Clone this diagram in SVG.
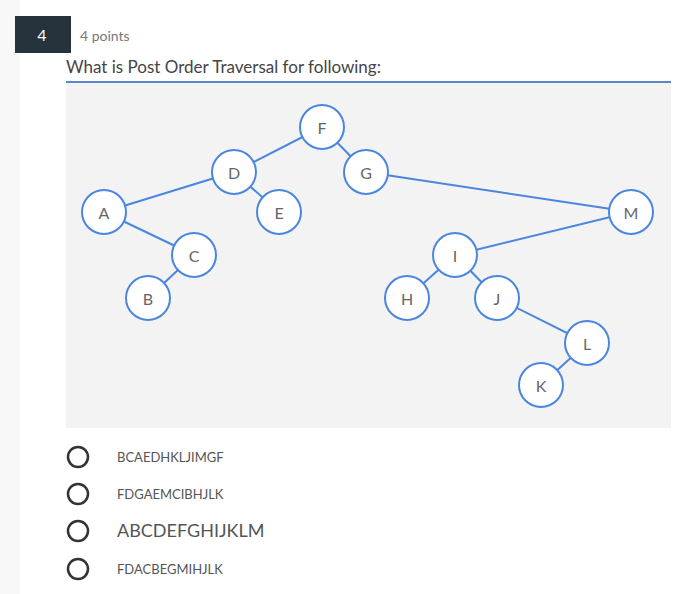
<svg xmlns="http://www.w3.org/2000/svg" width="700" height="594" viewBox="0 0 700 594">
<style>
.n circle{fill:#fff;stroke:#4a86e0;stroke-width:2}
.n text{font-family:Lato,"Liberation Sans",sans-serif;font-size:16px;fill:#666;text-anchor:middle;dominant-baseline:central}
.e line{stroke:#4a86e0;stroke-width:2}
.opt{font-family:Lato,"Liberation Sans",sans-serif;fill:#555}
.rb{fill:none;stroke:#333;stroke-width:2.5}
</style>
<rect width="700" height="594" fill="#fff"/>
<rect x="0" y="0" width="20" height="594" fill="#f8f8f8"/>
<rect x="15" y="16" width="56" height="37" fill="#26323c"/>
<text x="42" y="41" font-family="Lato,'Liberation Sans',sans-serif" font-size="16" fill="#fff" text-anchor="middle">4</text>
<text x="80" y="41" font-family="Lato,'Liberation Sans',sans-serif" font-size="14" fill="#777">4 points</text>
<text x="66" y="73" font-family="Lato,'Liberation Sans',sans-serif" font-size="17" fill="#444">What is Post Order Traversal for following:</text>
<rect x="66" y="83" width="605" height="345" fill="#f3f3f3"/>
<line x1="66" y1="82" x2="671" y2="82" stroke="#5b86c8" stroke-width="2"/>
<g id="connectors" class="e">
<line x1="322" y1="127" x2="234" y2="172"/>
<line x1="322" y1="127" x2="366" y2="172"/>
<line x1="234" y1="172" x2="104" y2="212"/>
<line x1="234" y1="172" x2="279" y2="212"/>
<line x1="104" y1="212" x2="194" y2="255"/>
<line x1="194" y1="255" x2="148" y2="298"/>
<line x1="366" y1="172" x2="631" y2="212"/>
<line x1="631" y1="212" x2="455" y2="255"/>
<line x1="455" y1="255" x2="407" y2="298"/>
<line x1="455" y1="255" x2="497" y2="298"/>
<line x1="497" y1="298" x2="587" y2="343"/>
<line x1="587" y1="343" x2="541" y2="385"/>
</g>
<g id="F" class="n"><circle cx="322" cy="127" r="22"/><text x="322" y="127">F</text></g>
<g id="D" class="n"><circle cx="234" cy="172" r="22"/><text x="234" y="172">D</text></g>
<g id="G" class="n"><circle cx="366" cy="172" r="22"/><text x="366" y="172">G</text></g>
<g id="E" class="n"><circle cx="279" cy="212" r="22"/><text x="279" y="212">E</text></g>
<g id="A" class="n"><circle cx="104" cy="212" r="22"/><text x="104" y="212">A</text></g>
<g id="M" class="n"><circle cx="631" cy="212" r="22"/><text x="631" y="212">M</text></g>
<g id="C" class="n"><circle cx="194" cy="255" r="22"/><text x="194" y="255">C</text></g>
<g id="I" class="n"><circle cx="455" cy="255" r="22"/><text x="455" y="255">I</text></g>
<g id="B" class="n"><circle cx="148" cy="298" r="22"/><text x="148" y="298">B</text></g>
<g id="H" class="n"><circle cx="407" cy="298" r="22"/><text x="407" y="298">H</text></g>
<g id="J" class="n"><circle cx="497" cy="298" r="22"/><text x="497" y="298">J</text></g>
<g id="L" class="n"><circle cx="587" cy="343" r="22"/><text x="587" y="343">L</text></g>
<g id="K" class="n"><circle cx="541" cy="385" r="22"/><text x="541" y="385">K</text></g>
<circle class="rb" cx="78" cy="457" r="10"/>
<text class="opt" x="117" y="462" font-size="13">BCAEDHKLJIMGF</text>
<circle class="rb" cx="78" cy="494" r="10"/>
<text class="opt" x="117" y="499" font-size="13">FDGAEMCIBHJLK</text>
<circle class="rb" cx="78" cy="531" r="10"/>
<text class="opt" x="117" y="537" font-size="18">ABCDEFGHIJKLM</text>
<circle class="rb" cx="78" cy="569" r="10"/>
<text class="opt" x="117" y="574" font-size="13">FDACBEGMIHJLK</text>
</svg>
